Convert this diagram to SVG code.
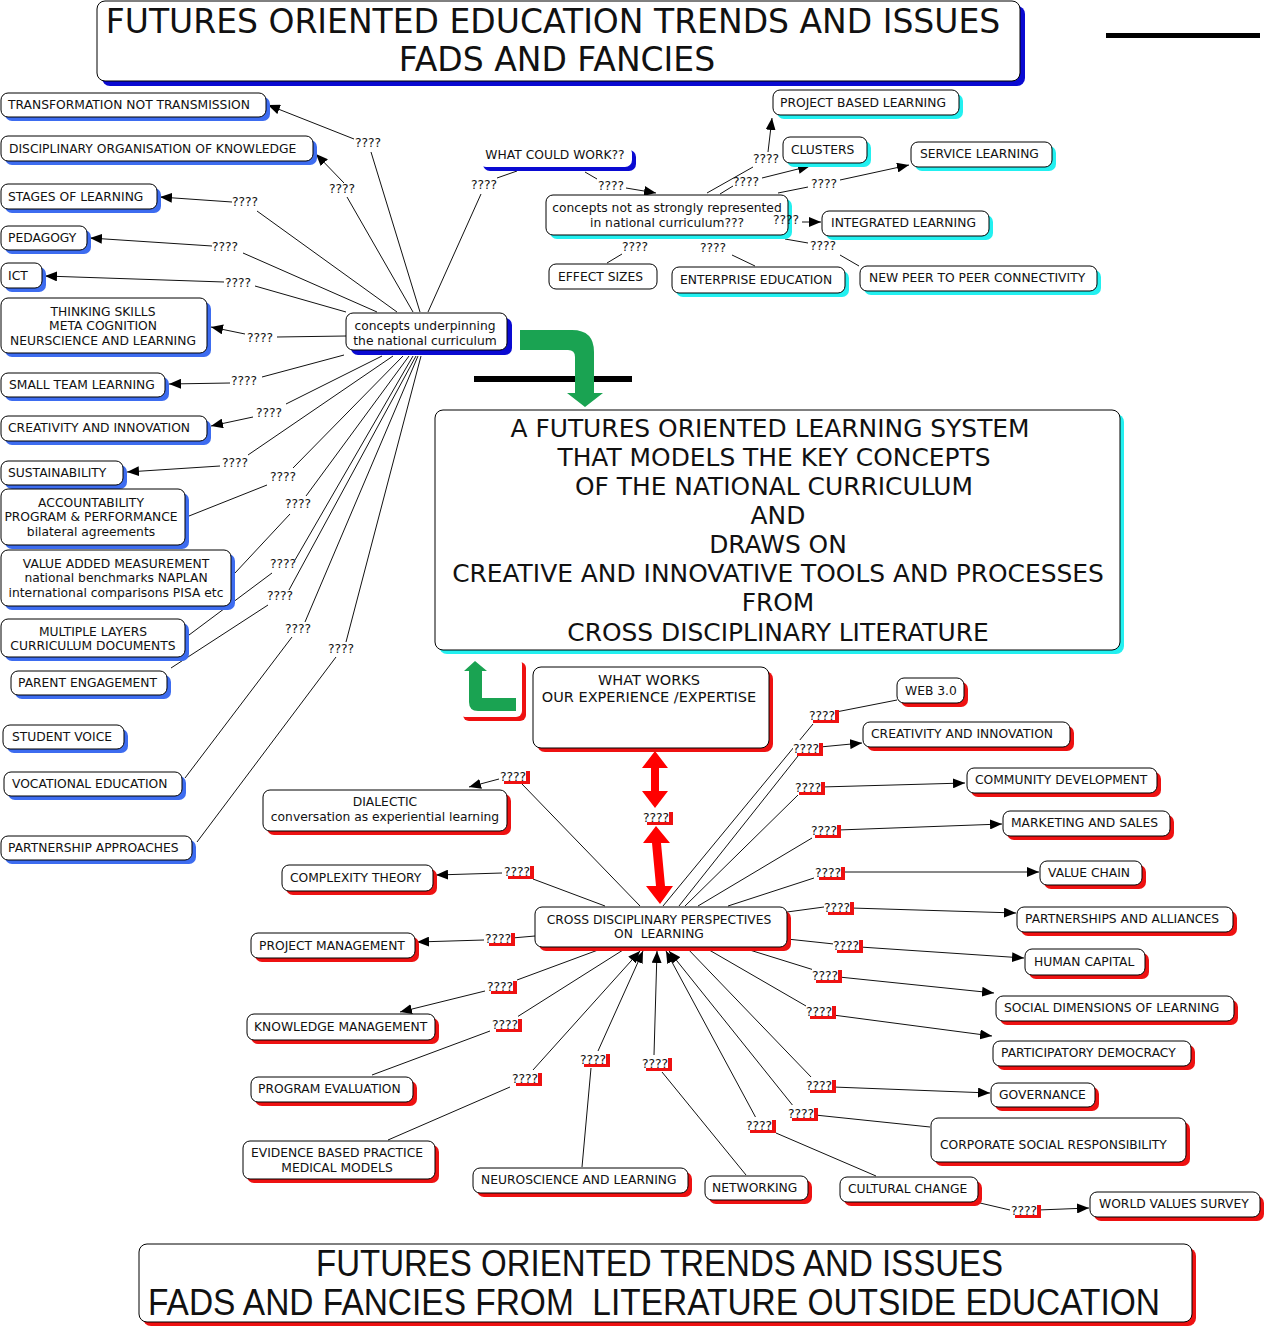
<svg xmlns="http://www.w3.org/2000/svg" width="1268" height="1329" viewBox="0 0 1268 1329">
<defs>
<marker id="ah" markerWidth="12" markerHeight="10" refX="12" refY="5" orient="auto" markerUnits="userSpaceOnUse"><path d="M0,0 L12,5 L0,10 z" fill="#000"/></marker>
<style>
text{font-family:"DejaVu Sans",Verdana,sans-serif;font-size:12.3px;fill:#111}
.box{fill:#fff;stroke:#000;stroke-width:1}
.nb{fill:#fff;stroke:none}
.sb{fill:#3d6cf0}
.sd{fill:#0a0ad2}
.sc{fill:#22f0f0}
.sr{fill:#ee1111}
.m{text-anchor:middle}
.c path{stroke:#111;stroke-width:1;fill:none}
.c path.a{marker-end:url(#ah)}
text.big{font-size:24.9px}
text.ttl{font-size:33px}
text.ww{font-size:14.5px}
text.bt{font-family:"Liberation Sans Narrow","Liberation Sans",Arial,sans-serif;font-size:36px}
</style>
</defs>
<rect width="1268" height="1329" fill="#fff"/>

<!-- artifacts -->
<rect x="1106" y="33" width="154" height="5" fill="#000"/>

<g id="connectors" class="c">
<path d="M420,312 L371,152"/><path class="a" d="M354,139 L268,105"/>
<path d="M413,312 L347,197"/><path class="a" d="M344,183 L316,154"/>
<path d="M397,312 L257,211"/><path class="a" d="M232,202 L160,197"/>
<path d="M377,312 L243,253"/><path class="a" d="M212,246 L90,238"/>
<path d="M346,312 L255,286"/><path class="a" d="M224,282 L45,276"/>
<path d="M346,336 L277,337"/><path class="a" d="M245,334 L211,327"/>
<path d="M344,355 L262,377"/><path class="a" d="M230,383 L169,384"/>
<path d="M382,356 L286,404"/><path class="a" d="M253,417 L211,426"/>
<path d="M393,356 L248,455"/><path class="a" d="M220,466 L127,472"/>
<path d="M403,356 L293,468"/><path d="M267,485 L189,516"/>
<path d="M409,356 L306,496"/><path d="M290,514 L235,573"/>
<path d="M413,356 L295,560"/><path d="M272,573 L189,635"/>
<path d="M416,356 L289,590"/><path d="M268,605 L171,668"/>
<path d="M418,356 L305,622"/><path d="M292,637 L185,778"/>
<path d="M421,356 L346,642"/><path d="M336,657 L197,842"/>
<path d="M428,312 L481,194"/><path d="M497,178 L517,171"/>
<path d="M585,172 L597,179"/><path class="a" d="M626,188 L656,193"/>
<path d="M707,193 L753,167"/><path class="a" d="M768,152 L772,118"/>
<path d="M720,194 L733,186"/><path class="a" d="M762,178 L810,166"/>
<path d="M778,193 L808,187"/><path class="a" d="M840,180 L909,165"/>
<path d="M667,215 L773,217"/><path class="a" d="M802,222 L821,222"/>
<path d="M785,239 L808,243"/><path d="M840,255 L859,266"/>
<path d="M622,254 L607,263"/>
<path d="M732,255 L755,266"/>

<path d="M640,906 L522,784"/><path class="a" d="M499,779 L469,787"/>
<path d="M605,906 L533,879"/><path class="a" d="M502,873 L436,875"/>
<path d="M535,936 L512,938"/><path class="a" d="M484,940 L417,942"/>
<path d="M598,950 L517,980"/><path class="a" d="M485,991 L400,1012"/>
<path d="M623,950 L517,1017"/><path d="M490,1031 L372,1075"/>
<path class="a" d="M533,1070 L640,951"/><path d="M510,1087 L388,1140"/>
<path class="a" d="M598,1051 L643,951"/><path d="M591,1068 L582,1167"/>
<path class="a" d="M654,1055 L657,951"/><path d="M662,1072 L746,1175"/>
<path class="a" d="M756,1118 L666,951"/><path d="M776,1133 L876,1176"/>
<path class="a" d="M794,1107 L669,951"/><path d="M815,1115 L930,1127"/>
<path d="M686,947 L812,1078"/><path class="a" d="M833,1087 L990,1093"/>
<path d="M704,947 L806,1006"/><path class="a" d="M833,1015 L992,1036"/>
<path d="M740,947 L814,970"/><path class="a" d="M839,977 L994,993"/>
<path d="M787,939 L834,944"/><path class="a" d="M860,947 L1024,958"/>
<path d="M787,912 L824,907"/><path class="a" d="M851,908 L1016,913"/>
<path d="M728,906 L814,878"/><path class="a" d="M842,872 L1039,872"/>
<path d="M698,906 L812,838"/><path class="a" d="M838,830 L1002,824"/>
<path d="M685,906 L798,795"/><path class="a" d="M821,787 L965,783"/>
<path d="M679,906 L798,756"/><path class="a" d="M820,747 L862,743"/>
<path d="M663,906 L813,724"/><path d="M836,712 L897,700"/>
<path d="M980,1203 L1010,1210"/><path class="a" d="M1038,1210 L1089,1208"/>

<!-- red double arrows -->
<polygon points="655,751 668,768 659,768 659,791 668,791 655,808 642,791 651,791 651,768 642,768" fill="#f00"/>
<polygon points="656,826 670,843 661,843 665,886 673,886 660,904 646,886 656,886 652,843 643,843" fill="#f00"/>

<!-- upper labels -->
<g>
<text class="m" x="368" y="147">????</text>
<text class="m" x="342" y="193">????</text>
<text class="m" x="245" y="206">????</text>
<text class="m" x="225" y="251">????</text>
<text class="m" x="238" y="287">????</text>
<text class="m" x="260" y="342">????</text>
<text class="m" x="244" y="385">????</text>
<text class="m" x="269" y="417">????</text>
<text class="m" x="235" y="467">????</text>
<text class="m" x="283" y="481">????</text>
<text class="m" x="298" y="508">????</text>
<text class="m" x="283" y="568">????</text>
<text class="m" x="280" y="600">????</text>
<text class="m" x="298" y="633">????</text>
<text class="m" x="341" y="653">????</text>
<text class="m" x="484" y="189">????</text>
<text class="m" x="611" y="190">????</text>
<text class="m" x="766" y="163">????</text>
<text class="m" x="746" y="186">????</text>
<text class="m" x="824" y="188">????</text>
<text class="m" x="823" y="250">????</text>
<text class="m" x="635" y="251">????</text>
<text class="m" x="713" y="252">????</text>
</g>

<!-- lower labels -->
<g id="lbls">
<g transform="translate(656,818)"><rect class="sr" x="-9" y="-6" width="26" height="13"/><rect class="nb" x="-13" y="-9" width="26" height="13"/><text class="m" x="0" y="4">????</text></g>
<g transform="translate(513,777)"><rect class="sr" x="-9" y="-6" width="26" height="13"/><rect class="nb" x="-13" y="-9" width="26" height="13"/><text class="m" x="0" y="4">????</text></g>
<g transform="translate(517,872)"><rect class="sr" x="-9" y="-6" width="26" height="13"/><rect class="nb" x="-13" y="-9" width="26" height="13"/><text class="m" x="0" y="4">????</text></g>
<g transform="translate(498,939)"><rect class="sr" x="-9" y="-6" width="26" height="13"/><rect class="nb" x="-13" y="-9" width="26" height="13"/><text class="m" x="0" y="4">????</text></g>
<g transform="translate(500,987)"><rect class="sr" x="-9" y="-6" width="26" height="13"/><rect class="nb" x="-13" y="-9" width="26" height="13"/><text class="m" x="0" y="4">????</text></g>
<g transform="translate(505,1025)"><rect class="sr" x="-9" y="-6" width="26" height="13"/><rect class="nb" x="-13" y="-9" width="26" height="13"/><text class="m" x="0" y="4">????</text></g>
<g transform="translate(525,1079)"><rect class="sr" x="-9" y="-6" width="26" height="13"/><rect class="nb" x="-13" y="-9" width="26" height="13"/><text class="m" x="0" y="4">????</text></g>
<g transform="translate(593,1060)"><rect class="sr" x="-9" y="-6" width="26" height="13"/><rect class="nb" x="-13" y="-9" width="26" height="13"/><text class="m" x="0" y="4">????</text></g>
<g transform="translate(655,1064)"><rect class="sr" x="-9" y="-6" width="26" height="13"/><rect class="nb" x="-13" y="-9" width="26" height="13"/><text class="m" x="0" y="4">????</text></g>
<g transform="translate(759,1126)"><rect class="sr" x="-9" y="-6" width="26" height="13"/><rect class="nb" x="-13" y="-9" width="26" height="13"/><text class="m" x="0" y="4">????</text></g>
<g transform="translate(801,1114)"><rect class="sr" x="-9" y="-6" width="26" height="13"/><rect class="nb" x="-13" y="-9" width="26" height="13"/><text class="m" x="0" y="4">????</text></g>
<g transform="translate(819,1086)"><rect class="sr" x="-9" y="-6" width="26" height="13"/><rect class="nb" x="-13" y="-9" width="26" height="13"/><text class="m" x="0" y="4">????</text></g>
<g transform="translate(819,1012)"><rect class="sr" x="-9" y="-6" width="26" height="13"/><rect class="nb" x="-13" y="-9" width="26" height="13"/><text class="m" x="0" y="4">????</text></g>
<g transform="translate(825,976)"><rect class="sr" x="-9" y="-6" width="26" height="13"/><rect class="nb" x="-13" y="-9" width="26" height="13"/><text class="m" x="0" y="4">????</text></g>
<g transform="translate(846,946)"><rect class="sr" x="-9" y="-6" width="26" height="13"/><rect class="nb" x="-13" y="-9" width="26" height="13"/><text class="m" x="0" y="4">????</text></g>
<g transform="translate(837,908)"><rect class="sr" x="-9" y="-6" width="26" height="13"/><rect class="nb" x="-13" y="-9" width="26" height="13"/><text class="m" x="0" y="4">????</text></g>
<g transform="translate(828,873)"><rect class="sr" x="-9" y="-6" width="26" height="13"/><rect class="nb" x="-13" y="-9" width="26" height="13"/><text class="m" x="0" y="4">????</text></g>
<g transform="translate(824,831)"><rect class="sr" x="-9" y="-6" width="26" height="13"/><rect class="nb" x="-13" y="-9" width="26" height="13"/><text class="m" x="0" y="4">????</text></g>
<g transform="translate(808,788)"><rect class="sr" x="-9" y="-6" width="26" height="13"/><rect class="nb" x="-13" y="-9" width="26" height="13"/><text class="m" x="0" y="4">????</text></g>
<g transform="translate(806,749)"><rect class="sr" x="-9" y="-6" width="26" height="13"/><rect class="nb" x="-13" y="-9" width="26" height="13"/><text class="m" x="0" y="4">????</text></g>
<g transform="translate(822,716)"><rect class="sr" x="-9" y="-6" width="26" height="13"/><rect class="nb" x="-13" y="-9" width="26" height="13"/><text class="m" x="0" y="4">????</text></g>
<g transform="translate(1024,1211)"><rect class="sr" x="-9" y="-6" width="26" height="13"/><rect class="nb" x="-13" y="-9" width="26" height="13"/><text class="m" x="0" y="4">????</text></g>
</g>
</g>

<!-- title -->
<g id="n-title"><rect class="sd" x="102" y="6" width="923" height="80" rx="8"/><rect class="box" x="97" y="1" width="923" height="80" rx="8"/>
<text class="ttl m" x="553" y="33">FUTURES ORIENTED EDUCATION TRENDS AND ISSUES</text><text class="ttl m" x="557" y="71">FADS AND FANCIES</text></g>

<!-- left column -->
<g id="n-transformation"><rect class="sb" x="5" y="97" width="265" height="24" rx="7"/><rect class="box" x="1" y="93" width="265" height="24" rx="7"/><text x="8" y="109">TRANSFORMATION NOT TRANSMISSION</text></g>
<g id="n-disciplinary"><rect class="sb" x="5" y="140" width="312" height="25" rx="7"/><rect class="box" x="1" y="136" width="312" height="25" rx="7"/><text x="9" y="153">DISCIPLINARY ORGANISATION OF KNOWLEDGE</text></g>
<g id="n-stages"><rect class="sb" x="5" y="188" width="156" height="25" rx="7"/><rect class="box" x="1" y="184" width="156" height="25" rx="7"/><text x="8" y="201">STAGES OF LEARNING</text></g>
<g id="n-pedagogy"><rect class="sb" x="5" y="230" width="86" height="24" rx="7"/><rect class="box" x="1" y="226" width="86" height="24" rx="7"/><text x="8" y="242">PEDAGOGY</text></g>
<g id="n-ict"><rect class="sb" x="5" y="267" width="41" height="25" rx="7"/><rect class="box" x="1" y="263" width="41" height="25" rx="7"/><text x="8" y="280">ICT</text></g>
<g id="n-thinking"><rect class="sb" x="5" y="302" width="206" height="55" rx="7"/><rect class="box" x="1" y="298" width="206" height="55" rx="7"/><text class="m" x="103" y="316">THINKING SKILLS</text><text class="m" x="103" y="330">META COGNITION</text><text class="m" x="103" y="345">NEURSCIENCE AND LEARNING</text></g>
<g id="n-smallteam"><rect class="sb" x="5" y="377" width="164" height="24" rx="7"/><rect class="box" x="1" y="373" width="164" height="24" rx="7"/><text x="9" y="389">SMALL TEAM LEARNING</text></g>
<g id="n-creativity-l"><rect class="sb" x="5" y="420" width="206" height="25" rx="7"/><rect class="box" x="1" y="416" width="206" height="25" rx="7"/><text x="8" y="432">CREATIVITY AND INNOVATION</text></g>
<g id="n-sustainability"><rect class="sb" x="5" y="465" width="122" height="24" rx="7"/><rect class="box" x="1" y="461" width="122" height="24" rx="7"/><text x="8" y="477">SUSTAINABILITY</text></g>
<g id="n-accountability"><rect class="sb" x="5" y="493" width="184" height="56" rx="7"/><rect class="box" x="1" y="489" width="184" height="56" rx="7"/><text class="m" x="91" y="507">ACCOUNTABILITY</text><text class="m" x="91" y="521">PROGRAM &amp; PERFORMANCE</text><text class="m" x="91" y="536">bilateral agreements</text></g>
<g id="n-valueadded"><rect class="sb" x="5" y="554" width="230" height="56" rx="7"/><rect class="box" x="1" y="550" width="230" height="56" rx="7"/><text class="m" x="116" y="568">VALUE ADDED MEASUREMENT</text><text class="m" x="116" y="582">national benchmarks NAPLAN</text><text class="m" x="116" y="597">international comparisons PISA etc</text></g>
<g id="n-multiple"><rect class="sb" x="5" y="623" width="184" height="38" rx="7"/><rect class="box" x="1" y="619" width="184" height="38" rx="7"/><text class="m" x="93" y="636">MULTIPLE LAYERS</text><text class="m" x="93" y="650">CURRICULUM DOCUMENTS</text></g>
<g id="n-parent"><rect class="sb" x="15" y="675" width="156" height="24" rx="7"/><rect class="box" x="11" y="671" width="156" height="24" rx="7"/><text x="18" y="687">PARENT ENGAGEMENT</text></g>
<g id="n-student"><rect class="sb" x="7" y="729" width="121" height="24" rx="7"/><rect class="box" x="3" y="725" width="121" height="24" rx="7"/><text x="12" y="741">STUDENT VOICE</text></g>
<g id="n-vocational"><rect class="sb" x="8" y="776" width="178" height="24" rx="7"/><rect class="box" x="4" y="772" width="178" height="24" rx="7"/><text x="12" y="788">VOCATIONAL EDUCATION</text></g>
<g id="n-partnership"><rect class="sb" x="5" y="840" width="191" height="24" rx="7"/><rect class="box" x="1" y="836" width="191" height="24" rx="7"/><text x="8" y="852">PARTNERSHIP APPROACHES</text></g>

<!-- hub -->
<g id="n-concepts"><rect class="sd" x="351" y="318" width="161" height="37" rx="7"/><rect class="box" x="346" y="313" width="161" height="37" rx="7"/><text class="m" x="425" y="330">concepts underpinning</text><text class="m" x="425" y="345">the national curriculum</text></g>
<rect x="474" y="376" width="158" height="6" fill="#000"/>

<!-- top middle -->
<g id="n-whatcouldwork"><rect class="sd" x="483" y="150" width="153" height="21" rx="7"/><rect class="nb" x="479" y="146" width="153" height="21" rx="7"/><text class="m" x="555" y="159">WHAT COULD WORK??</text></g>
<g id="n-notstrong"><rect class="sc" x="550" y="199" width="242" height="40" rx="7"/><rect class="box" x="546" y="195" width="242" height="40" rx="7"/><text class="m" x="667" y="212">concepts not as strongly represented</text><text class="m" x="667" y="227">in national curriculum???</text></g>
<text class="m" x="786" y="224">????</text>
<g id="n-pbl"><rect class="sc" x="777" y="94" width="186" height="25" rx="7"/><rect class="box" x="773" y="90" width="186" height="25" rx="7"/><text x="780" y="107">PROJECT BASED LEARNING</text></g>
<g id="n-clusters"><rect class="sc" x="787" y="141" width="84" height="26" rx="7"/><rect class="box" x="783" y="137" width="84" height="26" rx="7"/><text x="791" y="154">CLUSTERS</text></g>
<g id="n-service"><rect class="sc" x="915" y="146" width="141" height="25" rx="7"/><rect class="box" x="911" y="142" width="141" height="25" rx="7"/><text x="920" y="158">SERVICE LEARNING</text></g>
<g id="n-integrated"><rect class="sc" x="826" y="215" width="167" height="25" rx="7"/><rect class="box" x="822" y="211" width="167" height="25" rx="7"/><text x="831" y="227">INTEGRATED LEARNING</text></g>
<g id="n-effect"><rect class="box" x="549" y="264" width="108" height="25" rx="7"/><text x="558" y="281">EFFECT SIZES</text></g>
<g id="n-enterprise"><rect class="sc" x="676" y="271" width="173" height="26" rx="7"/><rect class="box" x="672" y="267" width="173" height="26" rx="7"/><text x="680" y="284">ENTERPRISE EDUCATION</text></g>
<g id="n-peer"><rect class="sc" x="864" y="270" width="237" height="25" rx="7"/><rect class="box" x="860" y="266" width="237" height="25" rx="7"/><text x="869" y="282">NEW PEER TO PEER CONNECTIVITY</text></g>

<!-- green arrows -->
<path d="M520,330 H572 Q594,330 594,352 V393 H603 L585,407 L567,393 H575 V357 Q575,350 568,350 H520 Z" fill="#1aa352"/>

<!-- big box -->
<g id="n-system"><rect class="sc" x="439" y="414" width="685" height="240" rx="8"/><rect class="box" x="435" y="410" width="685" height="240" rx="8"/>
<text class="big m" x="770" y="437">A FUTURES ORIENTED LEARNING SYSTEM</text>
<text class="big m" x="774" y="466">THAT MODELS THE KEY CONCEPTS</text>
<text class="big m" x="774" y="495">OF THE NATIONAL CURRICULUM</text>
<text class="big m" x="778" y="524">AND</text>
<text class="big m" x="778" y="553">DRAWS ON</text>
<text class="big m" x="778" y="582">CREATIVE AND INNOVATIVE TOOLS AND PROCESSES</text>
<text class="big m" x="778" y="611">FROM</text>
<text class="big m" x="778" y="641">CROSS DISCIPLINARY LITERATURE</text>
</g>

<g id="n-greenframe"><rect class="sr" x="463" y="662" width="63" height="59" rx="6"/><rect class="nb" x="459" y="658" width="63" height="59" rx="6"/>
<path d="M475,661 L487,671 H482 V698 H516 V711 H478 Q469,711 469,702 V671 H464 Z" fill="#1aa352"/></g>

<!-- lower nodes -->
<g id="n-whatworks"><rect class="sr" x="537" y="671" width="236" height="81" rx="8"/><rect class="box" x="533" y="667" width="236" height="81" rx="8"/><text class="ww m" x="649" y="685">WHAT WORKS</text><text class="ww m" x="649" y="702">OUR EXPERIENCE /EXPERTISE</text></g>
<g id="n-dialectic"><rect class="sr" x="267" y="794" width="244" height="41" rx="7"/><rect class="box" x="263" y="790" width="244" height="41" rx="7"/><text class="m" x="385" y="806">DIALECTIC</text><text class="m" x="385" y="821">conversation as experiential learning</text></g>
<g id="n-complexity"><rect class="sr" x="286" y="869" width="151" height="26" rx="7"/><rect class="box" x="282" y="865" width="151" height="26" rx="7"/><text x="290" y="882">COMPLEXITY THEORY</text></g>
<g id="n-cross"><rect class="sr" x="539" y="911" width="252" height="40" rx="7"/><rect class="box" x="535" y="907" width="252" height="40" rx="7"/><text class="m" x="659" y="924">CROSS DISCIPLINARY PERSPECTIVES</text><text class="m" x="659" y="938" xml:space="preserve">ON  LEARNING</text></g>
<g id="n-projmgmt"><rect class="sr" x="255" y="937" width="164" height="25" rx="7"/><rect class="box" x="251" y="933" width="164" height="25" rx="7"/><text x="259" y="950">PROJECT MANAGEMENT</text></g>
<g id="n-knowledge"><rect class="sr" x="251" y="1018" width="188" height="26" rx="7"/><rect class="box" x="247" y="1014" width="188" height="26" rx="7"/><text x="254" y="1031">KNOWLEDGE MANAGEMENT</text></g>
<g id="n-progeval"><rect class="sr" x="255" y="1081" width="162" height="25" rx="7"/><rect class="box" x="251" y="1077" width="162" height="25" rx="7"/><text x="258" y="1093">PROGRAM EVALUATION</text></g>
<g id="n-evidence"><rect class="sr" x="247" y="1145" width="192" height="38" rx="7"/><rect class="box" x="243" y="1141" width="192" height="38" rx="7"/><text class="m" x="337" y="1157">EVIDENCE BASED PRACTICE</text><text class="m" x="337" y="1172">MEDICAL MODELS</text></g>
<g id="n-neuro"><rect class="sr" x="477" y="1172" width="215" height="25" rx="7"/><rect class="box" x="473" y="1168" width="215" height="25" rx="7"/><text x="481" y="1184">NEUROSCIENCE AND LEARNING</text></g>
<g id="n-networking"><rect class="sr" x="709" y="1180" width="103" height="24" rx="7"/><rect class="box" x="705" y="1176" width="103" height="24" rx="7"/><text x="712" y="1192">NETWORKING</text></g>
<g id="n-cultural"><rect class="sr" x="844" y="1181" width="138" height="25" rx="7"/><rect class="box" x="840" y="1177" width="138" height="25" rx="7"/><text x="848" y="1193">CULTURAL CHANGE</text></g>
<g id="n-worldvalues"><rect class="sr" x="1094" y="1196" width="170" height="25" rx="7"/><rect class="box" x="1090" y="1192" width="170" height="25" rx="7"/><text x="1099" y="1208">WORLD VALUES SURVEY</text></g>
<g id="n-corporate"><rect class="sr" x="935" y="1122" width="255" height="44" rx="7"/><rect class="box" x="931" y="1118" width="255" height="44" rx="7"/><text x="940" y="1149">CORPORATE SOCIAL RESPONSIBILITY</text></g>
<g id="n-governance"><rect class="sr" x="995" y="1087" width="104" height="24" rx="7"/><rect class="box" x="991" y="1083" width="104" height="24" rx="7"/><text x="999" y="1099">GOVERNANCE</text></g>
<g id="n-participatory"><rect class="sr" x="997" y="1045" width="198" height="25" rx="7"/><rect class="box" x="993" y="1041" width="198" height="25" rx="7"/><text x="1001" y="1057">PARTICIPATORY DEMOCRACY</text></g>
<g id="n-social"><rect class="sr" x="1000" y="1000" width="238" height="25" rx="7"/><rect class="box" x="996" y="996" width="238" height="25" rx="7"/><text x="1004" y="1012">SOCIAL DIMENSIONS OF LEARNING</text></g>
<g id="n-human"><rect class="sr" x="1029" y="953" width="120" height="26" rx="7"/><rect class="box" x="1025" y="949" width="120" height="26" rx="7"/><text x="1034" y="966">HUMAN CAPITAL</text></g>
<g id="n-partnerships"><rect class="sr" x="1021" y="911" width="216" height="25" rx="7"/><rect class="box" x="1017" y="907" width="216" height="25" rx="7"/><text x="1025" y="923">PARTNERSHIPS AND ALLIANCES</text></g>
<g id="n-valuechain"><rect class="sr" x="1044" y="865" width="102" height="24" rx="7"/><rect class="box" x="1040" y="861" width="102" height="24" rx="7"/><text x="1048" y="877">VALUE CHAIN</text></g>
<g id="n-web"><rect class="sr" x="901" y="682" width="67" height="25" rx="7"/><rect class="box" x="897" y="678" width="67" height="25" rx="7"/><text x="905" y="695">WEB 3.0</text></g>
<g id="n-creativity-r"><rect class="sr" x="867" y="726" width="207" height="25" rx="7"/><rect class="box" x="863" y="722" width="207" height="25" rx="7"/><text x="871" y="738">CREATIVITY AND INNOVATION</text></g>
<g id="n-community"><rect class="sr" x="971" y="772" width="190" height="25" rx="7"/><rect class="box" x="967" y="768" width="190" height="25" rx="7"/><text x="975" y="784">COMMUNITY DEVELOPMENT</text></g>
<g id="n-marketing"><rect class="sr" x="1007" y="815" width="167" height="25" rx="7"/><rect class="box" x="1003" y="811" width="167" height="25" rx="7"/><text x="1011" y="827">MARKETING AND SALES</text></g>

<!-- bottom title -->
<g id="n-bottomtitle"><rect class="sr" x="143" y="1248" width="1053" height="78" rx="8"/><rect class="box" x="139" y="1244" width="1053" height="78" rx="8"/>
<text class="bt" x="316" y="1276" textLength="687" lengthAdjust="spacingAndGlyphs">FUTURES ORIENTED TRENDS AND ISSUES</text>
<text class="bt" x="148" y="1315" textLength="1012" lengthAdjust="spacingAndGlyphs" xml:space="preserve">FADS AND FANCIES FROM  LITERATURE OUTSIDE EDUCATION</text></g>
</svg>
